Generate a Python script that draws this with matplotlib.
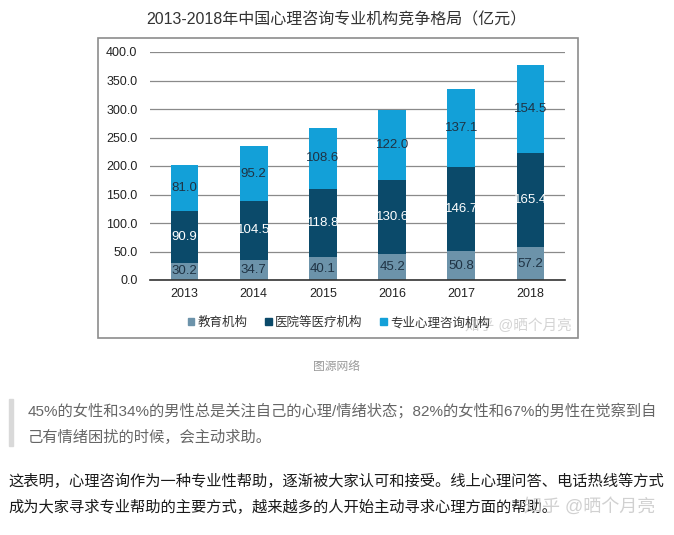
import matplotlib
matplotlib.use("Agg")
import matplotlib.pyplot as plt
from matplotlib.patches import Rectangle
import numpy as np

plt.rcParams['font.family'] = ['Liberation Sans', 'Noto Sans CJK SC', 'DejaVu Sans']

years = ["2013", "2014", "2015", "2016", "2017", "2018"]
edu = [30.2, 34.7, 40.1, 45.2, 50.8, 57.2]
hosp = [90.9, 104.5, 118.8, 130.6, 146.7, 165.4]
consult = [81.0, 95.2, 108.6, 122.0, 137.1, 154.5]
series_names = ["教育机构", "医院等医疗机构", "专业心理咨询机构"]
colors = ["#6c93aa", "#0b4a6a", "#13a0d8"]
label_colors = ["#1f3344", "white", "#1f3344"]
yticks = [0, 50, 100, 150, 200, 250, 300, 350, 400]

W, H = 674, 535
fig = plt.figure(figsize=(W / 100, H / 100), dpi=100)

def fx(x):
    return x / W

def fy(y):
    return 1 - y / H

# chart frame
fig.patches.append(Rectangle((fx(98), fy(338)), fx(578) - fx(98), fy(38) - fy(338),
                             transform=fig.transFigure, fill=False, edgecolor="#8c8c8c", lw=1.2))

fig.text(fx(336), fy(20), "2013-2018年中国心理咨询专业机构竞争格局（亿元）",
         ha="center", va="center", fontsize=11.5, color="#333333")

ax = fig.add_axes([fx(150), fy(280), fx(565) - fx(150), fy(52) - fy(280)])
x = np.arange(len(years))
bottom = np.zeros(len(years))
for vals, c, lc in zip([edu, hosp, consult], colors, label_colors):
    vals = np.array(vals)
    ax.bar(x, vals, 0.4, bottom=bottom, color=c, zorder=2)
    for xi, b, v in zip(x, bottom, vals):
        ax.text(xi, b + v / 2, f"{v:.1f}", ha="center", va="center", fontsize=9.5, color=lc, zorder=3)
    bottom = bottom + vals

ax.set_xlim(-0.5, len(years) - 0.5)
ax.set_ylim(0, 400)
ax.set_yticks(yticks)
ax.set_yticklabels([f"{t:.1f}" for t in yticks], fontsize=9, color="#222222")
ax.set_xticks(x)
ax.set_xticklabels(years, fontsize=9, color="#222222")
ax.tick_params(length=0, pad=9)
ax.tick_params(axis="x", pad=6)
ax.yaxis.grid(True, color="#8a8a8a", lw=0.9, zorder=0)
ax.set_axisbelow(True)
for s in ["top", "right", "left"]:
    ax.spines[s].set_visible(False)
ax.spines["bottom"].set_color("#333333")
ax.spines["bottom"].set_linewidth(1.2)

# legend
handles = [Rectangle((0, 0), 1, 1, color=c) for c in colors]
fig.legend(handles, series_names, loc="center", bbox_to_anchor=(fx(339), fy(323)), ncol=3,
           frameon=False, fontsize=9, handlelength=0.5, handleheight=0.5,
           handletextpad=0.3, columnspacing=1.4, labelcolor="#333333")

# watermark in chart
fig.text(fx(518), fy(326), "知乎 @晒个月亮", ha="center", va="center", fontsize=10.5,
         color="#d4d4d4")

# caption
fig.text(fx(337), fy(367), "图源网络", ha="center", va="center", fontsize=8.5, color="#999999")

# quote block
fig.patches.append(Rectangle((fx(9), fy(446)), fx(13) - fx(9), fy(399) - fy(446),
                             transform=fig.transFigure, color="#d9d9d9"))
fig.text(fx(28), fy(411), "45%的女性和34%的男性总是关注自己的心理/情绪状态；82%的女性和67%的男性在觉察到自",
         ha="left", va="center", fontsize=11, color="#666666")
fig.text(fx(28), fy(437), "己有情绪困扰的时候，会主动求助。",
         ha="left", va="center", fontsize=11, color="#666666")

# paragraph
fig.text(fx(8), fy(481), "这表明，心理咨询作为一种专业性帮助，逐渐被大家认可和接受。线上心理问答、电话热线等方式",
         ha="left", va="center", fontsize=11, color="#1a1a1a")
fig.text(fx(8), fy(507), "成为大家寻求专业帮助的主要方式，越来越多的人开始主动寻求心理方面的帮助。",
         ha="left", va="center", fontsize=11, color="#1a1a1a")
fig.text(fx(590), fy(507), "知乎 @晒个月亮", ha="center", va="center", fontsize=13,
         color="#cccccc", alpha=0.9)

fig.savefig("out.png", dpi=100, facecolor="white")
